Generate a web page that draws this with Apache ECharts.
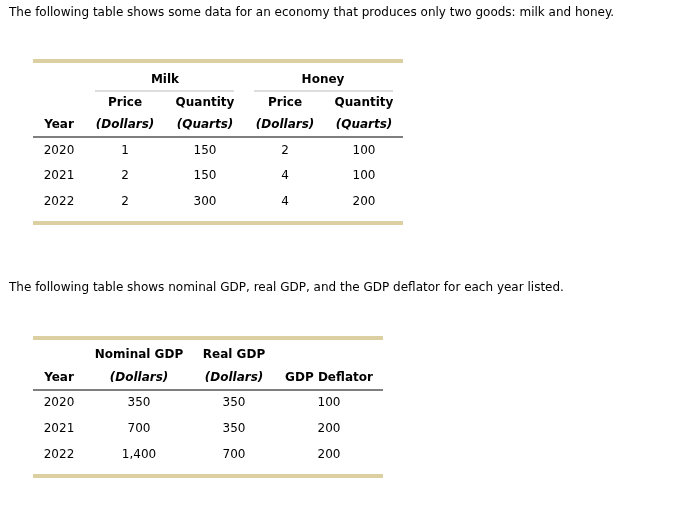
<!DOCTYPE html>
<html>
<head>
<meta charset="utf-8">
<script src="https://cdn.jsdelivr.net/npm/echarts@6/dist/echarts.min.js"></script>
<style>
  html, body { margin: 0; padding: 0; background: #fff; }
  #main { width: 678px; height: 523px; }
</style>
</head>
<body>
<div id="main"></div>
<script>
// 表1：产品数据
var years = ['2020', '2021', '2022'];
var milkPrice = [1, 2, 2];
var milkQuantity = [150, 150, 300];
var honeyPrice = [2, 4, 4];
var honeyQuantity = [100, 100, 200];

// 表2：GDP
var nominalGDP = ['350', '700', '1,400'];
var realGDP = ['350', '350', '700'];
var gdpDeflator = ['100', '200', '200'];

var intro1 = 'The following table shows some data for an economy that produces only two goods: milk and honey.';
var intro2 = 'The following table shows nominal GDP, real GDP, and the GDP deflator for each year listed.';

var FONT = 'Verdana, "DejaVu Sans", sans-serif';
var BAR = '#dcd0a3';
var els = [];

function txt(x, y, s, opt) {
    opt = opt || {};
    els.push({
        type: 'text', x: x, y: y,
        style: {
            text: s, fill: '#000', font: (opt.italic ? 'italic ' : '') + (opt.bold ? 'bold ' : '') + '12px ' + FONT,
            align: opt.align || 'center', verticalAlign: 'middle'
        }
    });
}
function line(x1, x2, y, color, w) {
    els.push({ type: 'rect', shape: { x: x1, y: y - w / 2, width: x2 - x1, height: w }, style: { fill: color } });
}

txt(9, 13, intro1, { align: 'left' });
txt(9, 288, intro2, { align: 'left' });

// 表1
var c1 = [59, 125, 205, 285, 364];
var rowY1 = [151, 176, 202];
line(33, 403, 61, BAR, 4);
txt(165, 80, 'Milk', { bold: true });
txt(323, 80, 'Honey', { bold: true });
line(95, 234, 91, '#bbb', 1);
line(254, 393, 91, '#bbb', 1);
['Price', 'Quantity', 'Price', 'Quantity'].forEach(function (s, i) { txt(c1[i + 1], 103, s, { bold: true }); });
txt(c1[0], 125, 'Year', { bold: true });
['(Dollars)', '(Quarts)', '(Dollars)', '(Quarts)'].forEach(function (s, i) { txt(c1[i + 1], 125, s, { italic: true, bold: true }); });
line(33, 403, 137, '#000', 1.2);
years.forEach(function (y, i) {
    var row = [y, milkPrice[i], milkQuantity[i], honeyPrice[i], honeyQuantity[i]];
    row.forEach(function (v, j) { txt(c1[j], rowY1[i], String(v)); });
});
line(33, 403, 223, BAR, 4);

// 表2
var c2 = [59, 139, 234, 329];
var rowY2 = [403, 429, 455];
line(33, 383, 338, BAR, 4);
txt(c2[1], 355, 'Nominal GDP', { bold: true });
txt(c2[2], 355, 'Real GDP', { bold: true });
txt(c2[0], 378, 'Year', { bold: true });
txt(c2[1], 378, '(Dollars)', { italic: true, bold: true });
txt(c2[2], 378, '(Dollars)', { italic: true, bold: true });
txt(c2[3], 378, 'GDP Deflator', { bold: true });
line(33, 383, 390, '#000', 1.2);
years.forEach(function (y, i) {
    [y, nominalGDP[i], realGDP[i], gdpDeflator[i]].forEach(function (v, j) { txt(c2[j], rowY2[i], v); });
});
line(33, 383, 476, BAR, 4);

var chart = echarts.init(document.getElementById('main'));
chart.setOption({ animation: false, graphic: { elements: els } });
</script>
</body>
</html>
